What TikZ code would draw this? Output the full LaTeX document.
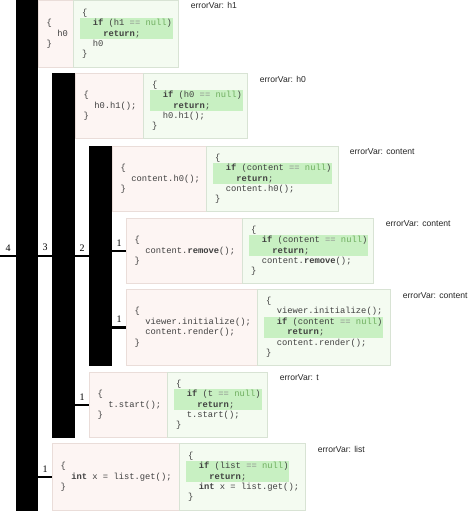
\documentclass[tikz,border=0pt]{standalone}
\usepackage{fontspec}
\setmainfont{Liberation Serif}
\setsansfont{Liberation Sans}
\setmonofont{Liberation Mono}
\usetikzlibrary{calc}
\definecolor{pinkfill}{HTML}{FDF5F3}
\definecolor{pinkline}{HTML}{EADDD9}
\definecolor{greenfill}{HTML}{F4FBF1}
\definecolor{greenline}{HTML}{D8E3D4}
\definecolor{hlgreen}{HTML}{C8F0C2}
\definecolor{codegray}{HTML}{404040}
\definecolor{nullgreen}{HTML}{6FAE5F}
\definecolor{opgray}{HTML}{8A8A8A}
\newcommand\kw[1]{\textbf{#1}}
\newcommand\nul{\textcolor{nullgreen}{null}}
\newcommand\eqq{\textcolor{opgray}{==}}
\newcommand\ind{\hspace*{1.2em}}
\newcommand\indd{\hspace*{2.4em}}
\tikzset{
  pinkbox/.style={draw=pinkline, fill=pinkfill, line width=0.6pt, anchor=north west, inner sep=0pt},
  greenbox/.style={draw=greenline, fill=greenfill, line width=0.6pt, anchor=north west, inner sep=0pt},
  code/.style={anchor=west, inner sep=0pt, align=left, text=codegray, font=\ttfamily\fontsize{8.8}{10.4}\selectfont},
  bar/.style={fill=black, inner sep=0pt, anchor=north west},
  tick/.style={line width=2.4pt},
  ticklabel/.style={anchor=south, inner sep=0pt, yshift=3.5pt, font=\fontsize{10}{12}\selectfont},
  evlabel/.style={anchor=base west, inner sep=0pt, text=black!85, font=\sffamily\fontsize{8.6}{10}\selectfont},
  band/.style={fill=hlgreen},
}
\begin{document}
\begin{tikzpicture}[x=1pt,y=-1pt]
\useasboundingbox (0,0) rectangle (474,511);
\coordinate (left) at (0,0);
% bars
\node[bar, minimum width=22pt, minimum height=511pt] (bar4) at (16,0) {};
\node[bar, minimum width=23pt, minimum height=365pt] (bar3) at (52,73) {};
\node[bar, minimum width=23pt, minimum height=220pt] (bar2) at (89,146) {};
% boxes
\node[pinkbox, minimum width=35pt, minimum height=67pt] (pA) at (38,0) {};
\node[greenbox, minimum width=105pt, minimum height=67pt] (gA) at (73,0) {};
\node[pinkbox, minimum width=68pt, minimum height=65pt] (pB) at (75,73) {};
\node[greenbox, minimum width=104pt, minimum height=65pt] (gB) at (143,73) {};
\node[pinkbox, minimum width=94pt, minimum height=65pt] (pC) at (112,146) {};
\node[greenbox, minimum width=132pt, minimum height=65pt] (gC) at (206,146) {};
\node[pinkbox, minimum width=116pt, minimum height=65pt] (pD) at (126,218) {};
\node[greenbox, minimum width=131pt, minimum height=65pt] (gD) at (242,218) {};
\node[pinkbox, minimum width=131pt, minimum height=76pt] (pE) at (126,289) {};
\node[greenbox, minimum width=133pt, minimum height=76pt] (gE) at (257,289) {};
\node[pinkbox, minimum width=78pt, minimum height=65pt] (pF) at (89,372) {};
\node[greenbox, minimum width=100pt, minimum height=65pt] (gF) at (167,372) {};
\node[pinkbox, minimum width=127pt, minimum height=67pt] (pG) at (52,443) {};
\node[greenbox, minimum width=126pt, minimum height=67pt] (gG) at (179,443) {};
% highlight bands
\fill[band] ($(gA.west)+(7,-15.6)$) rectangle ++(92.8,20.8);
\fill[band] ($(gB.west)+(7,-15.6)$) rectangle ++(92.8,20.8);
\fill[band] ($(gC.west)+(7,-15.6)$) rectangle ++(119,20.8);
\fill[band] ($(gD.west)+(7,-15.6)$) rectangle ++(119,20.8);
\fill[band] ($(gE.west)+(7,-10.4)$) rectangle ++(119,20.8);
\fill[band] ($(gF.west)+(7,-15.6)$) rectangle ++(87.5,20.8);
\fill[band] ($(gG.west)+(7,-15.6)$) rectangle ++(103.3,20.8);
% code texts
\node[code] (tpA) at ($(pA.west)+(8.5,0)$) {\{\\\ind h0\\\}};
\node[code] (tgA) at ($(gA.west)+(9,0)$) {\{\\\ind\kw{if} (h1 \eqq{} \nul)\\\indd\kw{return};\\\ind h0\\\}};
\node[code] (tpB) at ($(pB.west)+(8.5,0)$) {\{\\\ind h0.h1();\\\}};
\node[code] (tgB) at ($(gB.west)+(9,0)$) {\{\\\ind\kw{if} (h0 \eqq{} \nul)\\\indd\kw{return};\\\ind h0.h1();\\\}};
\node[code] (tpC) at ($(pC.west)+(8.5,0)$) {\{\\\ind content.h0();\\\}};
\node[code] (tgC) at ($(gC.west)+(9,0)$) {\{\\\ind\kw{if} (content \eqq{} \nul)\\\indd\kw{return};\\\ind content.h0();\\\}};
\node[code] (tpD) at ($(pD.west)+(8.5,0)$) {\{\\\ind content.\kw{remove}();\\\}};
\node[code] (tgD) at ($(gD.west)+(9,0)$) {\{\\\ind\kw{if} (content \eqq{} \nul)\\\indd\kw{return};\\\ind content.\kw{remove}();\\\}};
\node[code] (tpE) at ($(pE.west)+(8.5,0)$) {\{\\\ind viewer.initialize();\\\ind content.render();\\\}};
\node[code] (tgE) at ($(gE.west)+(9,0)$) {\{\\\ind viewer.initialize();\\\ind\kw{if} (content \eqq{} \nul)\\\indd\kw{return};\\\ind content.render();\\\}};
\node[code] (tpF) at ($(pF.west)+(8.5,0)$) {\{\\\ind t.start();\\\}};
\node[code] (tgF) at ($(gF.west)+(9,0)$) {\{\\\ind\kw{if} (t \eqq{} \nul)\\\indd\kw{return};\\\ind t.start();\\\}};
\node[code] (tpG) at ($(pG.west)+(8.5,0)$) {\{\\\ind\kw{int} x = list.get();\\\}};
\node[code] (tgG) at ($(gG.west)+(9,0)$) {\{\\\ind\kw{if} (list \eqq{} \nul)\\\indd\kw{return};\\\ind\kw{int} x = list.get();\\\}};
% errorVar labels
\node[evlabel] (eA) at ($(gA.north east)+(12,9)$) {errorVar: h1};
\node[evlabel] (eB) at ($(gB.north east)+(12,9)$) {errorVar: h0};
\node[evlabel] (eC) at ($(gC.north east)+(11,8.5)$) {errorVar: content};
\node[evlabel] (eD) at ($(gD.north east)+(12,8.5)$) {errorVar: content};
\node[evlabel] (eE) at ($(gE.north east)+(12,9)$) {errorVar: content};
\node[evlabel] (eF) at ($(gF.north east)+(12,8.5)$) {errorVar: t};
\node[evlabel] (eG) at ($(gG.north east)+(12,9)$) {errorVar: list};
% ticks
\draw[tick] (left |- bar4.west) -- node[ticklabel] (l4) {4} (bar4.west);
\draw[tick] (bar4.east |- bar3.west) -- node[ticklabel] (l3) {3} (bar3.west);
\draw[tick] (bar3.east |- bar2.west) -- node[ticklabel] (l2) {2} (bar2.west);
\draw[tick] (bar2.east |- pD.west) -- node[ticklabel] (lD) {1} (pD.west);
\draw[tick] (bar2.east |- pE.west) -- node[ticklabel] (lE) {1} (pE.west);
\draw[tick] (bar3.east |- pF.west) -- node[ticklabel] (lF) {1} (pF.west);
\draw[tick] (bar4.east |- pG.west) -- node[ticklabel] (lG) {1} (pG.west);
\end{tikzpicture}
\end{document}
